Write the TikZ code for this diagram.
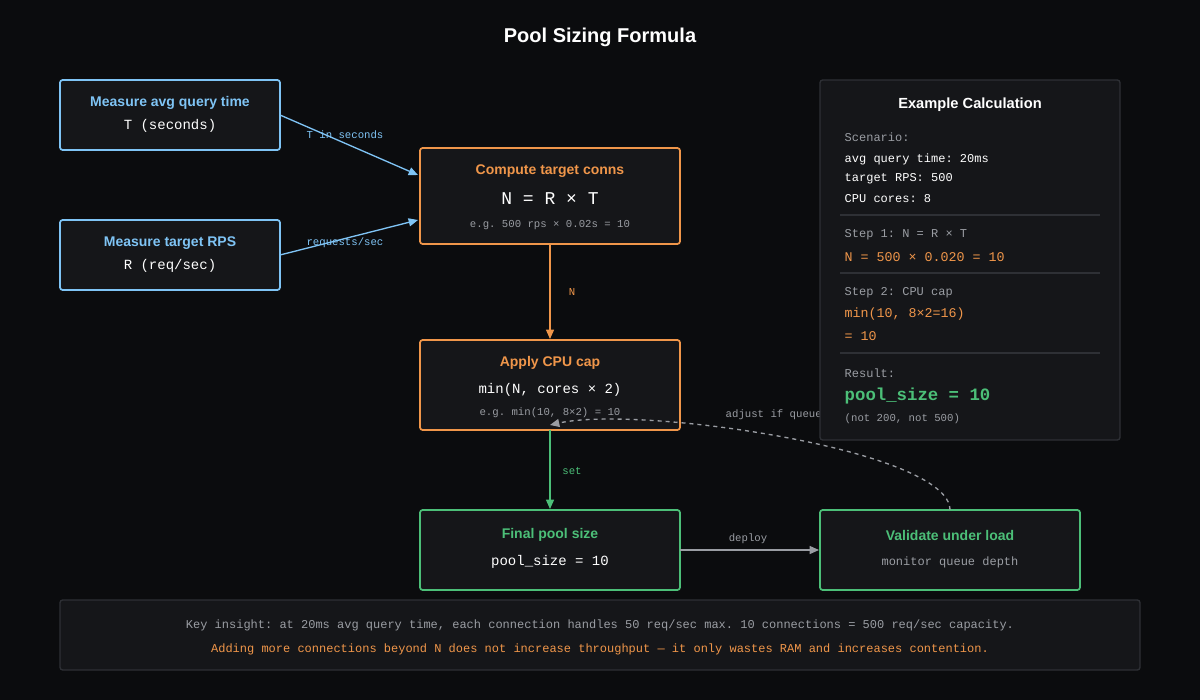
\documentclass[tikz,border=0pt]{standalone}
\usepackage{fontspec}
\setmainfont{Liberation Sans}
\setmonofont{Liberation Mono}
\usetikzlibrary{arrows.meta}
\definecolor{bg}{HTML}{0B0C0E}
\definecolor{boxbg}{HTML}{151619}
\definecolor{cblue}{HTML}{7FC4F5}
\definecolor{corange}{HTML}{F0964A}
\definecolor{cgreen}{HTML}{4CBF78}
\definecolor{cgray}{HTML}{9A9DA3}
\definecolor{cborder}{HTML}{2E3035}
\begin{document}
\begin{tikzpicture}[x=0.75pt,y=-0.75pt,
  box/.style={draw=#1,line width=1.3pt,fill=boxbg,rounded corners=2pt},
  ttl/.style={font=\bfseries\fontsize{10.5}{12}\selectfont,text=#1},
  mono/.style={font=\ttfamily\fontsize{10.5}{12}\selectfont,text=white},
  small/.style={font=\ttfamily\fontsize{8}{10}\selectfont,text=cgray},
  lbl/.style={font=\ttfamily\fontsize{8}{10}\selectfont,text=#1},
  arr/.style={draw=#1,line width=1pt,-{Triangle[length=7pt,width=6pt]}}]
\fill[bg] (0,0) rectangle (1200,700);
\useasboundingbox (0,0) rectangle (1200,700);
\node[font=\bfseries\fontsize{15}{18}\selectfont,text=white] (title) at (600,37) {Pool Sizing Formula};
% boxes
\draw[box=cblue] (60,80) rectangle (280,150);
\node[ttl=cblue] (a1) at (170,103) {Measure avg query time};
\node[mono] (a2) at (170,126) {T (seconds)};
\coordinate (aE) at (280,115);
\draw[box=cblue] (60,220) rectangle (280,290);
\node[ttl=cblue] (b1) at (170,243) {Measure target RPS};
\node[mono] (b2) at (170,266) {R (req/sec)};
\coordinate (bE) at (280,255);
\draw[box=corange] (420,148) rectangle (680,244);
\node[ttl=corange] (c1) at (550,171) {Compute target conns};
\node[font=\ttfamily\fontsize{13.5}{15}\selectfont,text=white] (c2) at (550,199) {N = R × T};
\node[small] (c3) at (550,225) {e.g. 500 rps × 0.02s = 10};
\coordinate (cW1) at (418,175); \coordinate (cW2) at (418,220);
\coordinate (cS) at (550,244);
\draw[box=corange] (420,340) rectangle (680,430);
\node[ttl=corange] (d1) at (550,363) {Apply CPU cap};
\node[mono] (d2) at (550,390) {min(N, cores × 2)};
\node[small] (d3) at (550,413) {e.g. min(10, 8×2) = 10};
\coordinate (dN) at (550,339); \coordinate (dS) at (550,430);
\coordinate (dIn) at (550,425);
\draw[box=cgreen] (420,510) rectangle (680,590);
\node[ttl=cgreen] (e1) at (550,535) {Final pool size};
\node[mono] (e2) at (550,562) {pool\_size = 10};
\coordinate (eN) at (550,509); \coordinate (eE) at (680,550);
\draw[box=cgreen] (820,510) rectangle (1080,590);
\node[ttl=cgreen] (f1) at (950,535) {Validate under load};
\node[small,font=\ttfamily\fontsize{9}{10}\selectfont] (f2) at (950,562) {monitor queue depth};
\coordinate (fW) at (819,550); \coordinate (fN) at (950,510);
% connectors
\draw[arr=cblue] (aE) -- (cW1);
\node[lbl=cblue] (l1) at (345,135) {T in seconds};
\draw[arr=cblue] (bE) -- (cW2);
\node[lbl=cblue] (l2) at (345,243) {requests/sec};
\draw[arr=corange] (cS) -- (dN);
\node[lbl=corange] (l3) at (572,292) {N};
\draw[arr=cgreen] (dS) -- (eN);
\node[lbl=cgreen] (l4) at (572,471) {set};
\draw[arr=cgray] (eE) -- (fW);
\node[lbl=cgray] (l5) at (748,539) {deploy};
\draw[arr=cgray,dashed] (fN) .. controls (950,450) and (640,405) .. (dIn);
\node[lbl=cgray,anchor=west] (l6) at (721,415) {adjust if queue grows};
% example box
\draw[fill=boxbg,draw=cborder,line width=1pt,rounded corners=2pt] (820,80) rectangle (1120,440);
\node[font=\bfseries\fontsize{11}{13}\selectfont,text=white] (x0) at (970,105) {Example Calculation};
\begin{scope}[every node/.style={anchor=west}]
\node[lbl=cgray,font=\ttfamily\fontsize{9}{10}\selectfont] (x1) at (840,137) {Scenario:};
\node[lbl=white,font=\ttfamily\fontsize{9}{10}\selectfont] (x2) at (840,159) {avg query time: 20ms};
\node[lbl=white,font=\ttfamily\fontsize{9}{10}\selectfont] (x3) at (840,179) {target RPS: 500};
\node[lbl=white,font=\ttfamily\fontsize{9}{10}\selectfont] (x4) at (840,199) {CPU cores: 8};
\node[lbl=cgray,font=\ttfamily\fontsize{9}{10}\selectfont] (x5) at (840,235) {Step 1: N = R × T};
\node[lbl=corange,font=\ttfamily\fontsize{10}{12}\selectfont] (x6) at (840,257) {N = 500 × 0.020 = 10};
\node[lbl=cgray,font=\ttfamily\fontsize{9}{10}\selectfont] (x7) at (840,293) {Step 2: CPU cap};
\node[lbl=corange,font=\ttfamily\fontsize{10}{12}\selectfont] (x8) at (840,314) {min(10, 8×2=16)};
\node[lbl=corange,font=\ttfamily\fontsize{10}{12}\selectfont] (x9) at (840,336) {= 10};
\node[lbl=cgray,font=\ttfamily\fontsize{9}{10}\selectfont] (x10) at (840,373) {Result:};
\node[lbl=cgreen,font=\ttfamily\bfseries\fontsize{13}{15}\selectfont] (x11) at (840,396) {pool\_size = 10};
\node[lbl=cgray,font=\ttfamily\fontsize{8}{10}\selectfont] (x12) at (840,419) {(not 200, not 500)};
\end{scope}
\draw[cborder,line width=0.8pt] (840,215) -- (1100,215) (840,273) -- (1100,273) (840,353) -- (1100,353);
% bottom box
\draw[fill=boxbg,draw=cborder,line width=1pt,rounded corners=2pt] (60,600) rectangle (1140,670);
\node[lbl=cgray,font=\ttfamily\fontsize{9}{10}\selectfont] (k1) at (600,625) {Key insight: at 20ms avg query time, each connection handles 50 req/sec max. 10 connections = 500 req/sec capacity.};
\node[lbl=corange,font=\ttfamily\fontsize{9}{10}\selectfont] (k2) at (600,649) {Adding more connections beyond N does not increase throughput — it only wastes RAM and increases contention.};
\end{tikzpicture}
\end{document}
